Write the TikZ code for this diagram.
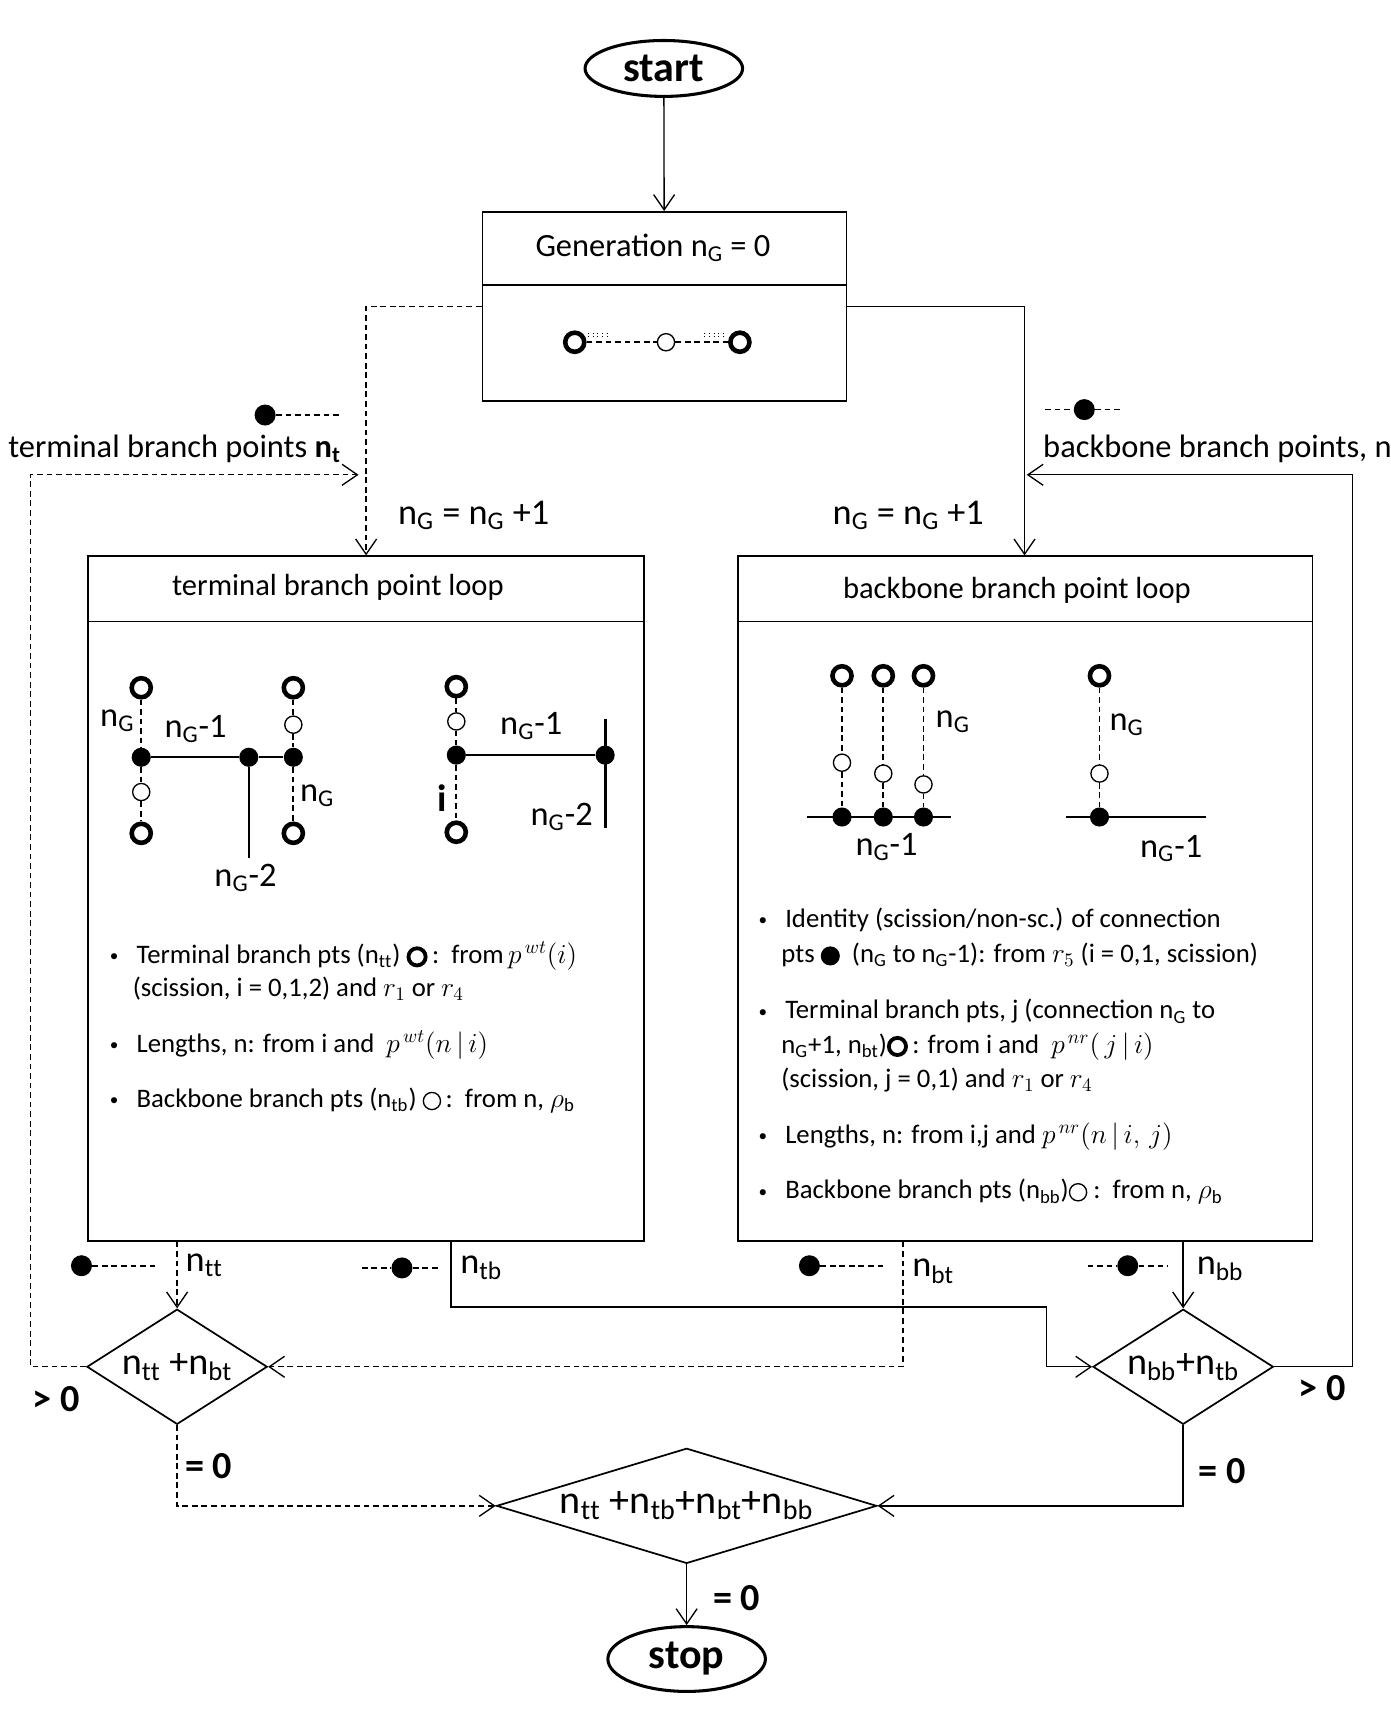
\documentclass[tikz,border=0pt]{standalone}
\usepackage{fontspec}
\setmainfont{Carlito}
\usetikzlibrary{arrows.meta,shapes.geometric}
\begin{document}
\begin{tikzpicture}[x=0.02cm,y=-0.02cm,
  ar/.style={-{Straight Barb[length=8pt,width=11pt]},line width=0.7pt},
  ln/.style={line width=0.9pt},
  dsh/.style={dashed,dash pattern=on 3pt off 2pt},
  box/.style={draw,line width=0.9pt,inner sep=0},
  dia/.style={draw,diamond,aspect=1.6,line width=0.9pt,inner sep=1pt,font=\fontsize{20}{22}\selectfont},
  term/.style={draw,ellipse,line width=1.6pt,font=\bfseries\fontsize{22}{24}\selectfont},
  tc/.style={circle,draw,line width=2.4pt,minimum size=10pt,inner sep=0},
  oc/.style={circle,draw,fill=white,line width=0.7pt,minimum size=9pt,inner sep=0},
  fd/.style={circle,fill,minimum size=10pt,inner sep=0},
  lb/.style={font=\fontsize{18}{20}\selectfont},
  bt/.style={font=\fontsize{14}{16}\selectfont,anchor=west},
  big/.style={font=\fontsize{19}{21}\selectfont},
  bz/.style={font=\bfseries\fontsize{20}{22}\selectfont}]
\useasboundingbox (0,0) rectangle (1280,1573);
% start
\node[term,minimum width=145*0.02cm,minimum height=48*0.02cm] (start) at (611,63) {start};
\node[box,minimum width=335*0.02cm,minimum height=174*0.02cm] (gen) at (611.5,282) {};
\draw[ln] (444,262) -- (779,262);
\node[font=\fontsize{17}{19}\selectfont] (gent) at (601,228) {Generation n$_{\mathrm G}$ = 0};
\draw[ar] (start) -- (gen);
% gen picture
\node[tc] (g1) at (529,315) {};
\node[oc] (g2) at (613,315) {};
\node[tc] (g3) at (681,315) {};
\draw[ln,dsh] (g1) -- (g2); \draw[ln,dsh] (g2) -- (g3);
\draw[line width=0.5pt,dotted] (541,307)--(561,307) (541,310)--(561,310) (648,307)--(668,307) (648,310)--(668,310);
% big boxes
\node[box,minimum width=512*0.02cm,minimum height=630*0.02cm] (tl) at (337,827) {};
\draw[ln] (81,572) -- (593,572);
\node[font=\fontsize{16}{18}\selectfont] (tlt) at (311,541) {terminal branch point loop};
\node[box,minimum width=529*0.02cm,minimum height=630*0.02cm] (bl) at (943.5,827) {};
\draw[ln] (679,572) -- (1208,572);
\node[font=\fontsize{16}{18}\selectfont] (blt) at (936,543) {backbone branch point loop};
% gen to loops
\coordinate (gl) at (337,282); \coordinate (gr) at (943,282);
\draw[ar,dsh] (gen.west |- gl) -- (gl) -- (tl.north -| gl);
\draw[ar] (gen.east |- gr) -- (gr) -- (bl.north -| gr);
\node[big] (inc1) at (436,474) {n$_{\mathrm G}$ = n$_{\mathrm G}$ +1};
\node[big] (inc2) at (836,474) {n$_{\mathrm G}$ = n$_{\mathrm G}$ +1};
% legends top
\node[fd,minimum size=11pt] (lgl) at (244,382) {}; \coordinate (lgl2) at (312,382);
\draw[ln,dsh] (lgl) -- (lgl2);
\node[lb,anchor=east,font=\fontsize{17}{19}\selectfont] (tbp) at (320,413) {terminal branch points \textbf{n$_{\mathbf t}$}};
\node[fd,minimum size=11pt] (lgr) at (998,377) {}; \coordinate (lgr1) at (962,377); \coordinate (lgr2) at (1034,377);
\draw[ln,dsh] (lgr1) -- (lgr) -- (lgr2);
\node[lb,anchor=west,font=\fontsize{17}{19}\selectfont] (bbp) at (954,413) {backbone branch points, n$_{\mathrm{b}}$};
% diamonds
\node[dia,minimum width=166*0.02cm,minimum height=106*0.02cm] (dl) at (163,1258) {n$_{\mathrm{tt}}$ +n$_{\mathrm{bt}}$};
\node[dia,minimum width=166*0.02cm,minimum height=106*0.02cm] (dr) at (1089,1258) {n$_{\mathrm{bb}}$+n$_{\mathrm{tb}}$};
\node[draw,diamond,line width=0.9pt,inner sep=0,minimum width=350*0.02cm,minimum height=106*0.02cm,font=\fontsize{21}{23}\selectfont,aspect=3.3] (dm) at (632,1386) {n$_{\mathrm{tt}}$ +n$_{\mathrm{tb}}$+n$_{\mathrm{bt}}$+n$_{\mathrm{bb}}$};
\node[term,minimum width=145*0.02cm,minimum height=46*0.02cm] (stop) at (632,1527) {stop};
% loop backs
\coordinate (lt) at (330,437); \coordinate (rt) at (945,437);
\draw[ar,dsh] (dl.west) -- (28,1258) |- (lt);
\draw[ar] (dr.east) -- (1245,1258) |- (rt);
% out of boxes
\draw[ar,dsh] (tl.south -| dl) -- (dl.north);
\draw[ar] (tl.south -| 415,0) -- (415,1203) -| (963,1258) -- (dr.west);
\draw[ar,dsh] (bl.south -| 831,0) -- (831,1258) -- (dl.east);
\draw[ar] (bl.south -| dr) -- (dr.north);
\draw[ar,dsh] (dl.south) -- (163,1386) -- (dm.west);
\draw[ar] (dr.south) -- (1089,1386) -- (dm.east);
\draw[ar] (dm.south) -- (stop.north);
\node[big] (ltt) at (188,1165) {n$_{\mathrm{tt}}$};
\node[big] (ltb) at (443,1167) {n$_{\mathrm{tb}}$};
\node[big] (lbt) at (859,1170) {n$_{\mathrm{bt}}$};
\node[big] (lbb) at (1123,1168) {n$_{\mathrm{bb}}$};
% small legends
\node[fd,minimum size=11pt] (s1) at (75,1165) {}; \coordinate (s1e) at (145,1165); \draw[ln,dsh] (s1) -- (s1e);
\node[fd,minimum size=11pt] (s2) at (370,1167) {}; \coordinate (s2a) at (333,1167); \coordinate (s2b) at (405,1167); \draw[ln,dsh] (s2a) -- (s2) -- (s2b);
\node[fd,minimum size=11pt] (s3) at (745,1165) {}; \coordinate (s3e) at (815,1165); \draw[ln,dsh] (s3) -- (s3e);
\node[fd,minimum size=11pt] (s4) at (1038,1165) {}; \coordinate (s4a) at (1001,1165); \coordinate (s4b) at (1075,1165); \draw[ln,dsh] (s4a) -- (s4) -- (s4b);
\node[bz] (g0a) at (52,1288) {> 0};
\node[bz] (g0b) at (1217,1278) {> 0};
\node[bz] (e0a) at (192,1349) {= 0};
\node[bz] (e0b) at (1125,1354) {= 0};
\node[bz] (e0c) at (678,1471) {= 0};
% left graph 1
\node[tc] (a1) at (130,633) {}; \node[fd] (a2) at (130,697) {}; \node[oc] (a3) at (130,729) {}; \node[tc] (a4) at (130,767) {};
\draw[ln,dsh] (a1) -- (a2) -- (a3) -- (a4);
\node[fd] (a5) at (229,697) {}; \node[fd] (a6) at (270,697) {};
\coordinate (a7) at (229,790);
\draw[ln] (a2) -- (a5) -- (a6); \draw[ln] (a5) -- (a7);
\node[tc] (b1) at (270,633) {}; \node[oc] (b2) at (270,667) {}; \node[tc] (b3) at (270,767) {};
\draw[ln,dsh] (b1) -- (b2) -- (a6) -- (b3);
\node[lb] (la1) at (108,663) {n$_{\mathrm G}$};
\node[lb] (la2) at (180,671) {n$_{\mathrm G}$-1};
\node[lb] (la3) at (226,808) {n$_{\mathrm G}$-2};
\node[lb] (la4) at (292,732) {n$_{\mathrm G}$};
% left graph 2
\node[tc] (c1) at (420,632) {}; \node[oc] (c2) at (420,664) {}; \node[fd] (c3) at (420,695) {}; \node[tc] (c4) at (420,766) {};
\draw[ln,dsh] (c1) -- (c2) -- (c3) -- (c4);
\node[fd] (c5) at (557,695) {}; \coordinate (c6) at (557,662); \coordinate (c7) at (557,762);
\draw[ln] (c3) -- (c5); \draw[line width=1.5pt] (c6) -- (c7);
\node[lb] (lc1) at (489,668) {n$_{\mathrm G}$-1};
\node[bz] (lc2) at (407,735) {i};
\node[lb] (lc3) at (517,752) {n$_{\mathrm G}$-2};
% right graph
\foreach \x/\o [count=\k] in {775/702,813/712,850/722}{
  \node[tc] (r\k t) at (\x,622) {}; \node[oc] (r\k o) at (\x,\o) {}; \node[fd] (r\k f) at (\x,752) {};
  \draw[ln,dsh] (r\k t) -- (r\k o) -- (r\k f);}
\coordinate (rh1) at (743,752); \coordinate (rh2) at (875,752); \draw[ln] (rh1) -- (rh2);
\node[tc] (q1) at (1012,622) {}; \node[oc] (q2) at (1012,712) {}; \node[fd] (q3) at (1012,752) {};
\draw[ln,dsh] (q1) -- (q2) -- (q3);
\coordinate (qh1) at (981,752); \coordinate (qh2) at (1110,752); \draw[ln] (qh1) -- (qh2);
\node[lb] (lr1) at (877,664) {n$_{\mathrm G}$};
\node[lb] (lr2) at (816,780) {n$_{\mathrm G}$-1};
\node[lb] (lr3) at (1037,667) {n$_{\mathrm G}$};
\node[lb] (lr4) at (1078,781) {n$_{\mathrm G}$-1};
% bullets
\def\tcs{\tikz[baseline=-3.5pt]\node[circle,draw,line width=2pt,minimum size=9pt,inner sep=0]{};}
\def\ocs{\tikz[baseline=-3.5pt]\node[circle,draw,line width=0.7pt,minimum size=9pt,inner sep=0]{};}
\def\fds{\tikz[baseline=-3.5pt]\node[circle,fill,minimum size=10pt,inner sep=0]{};}
\def\bul{{\fontsize{9}{9}\selectfont\raisebox{1pt}{\textbullet}}\ \ \ }
\node[bt] (u1) at (95,880) {\bul Terminal branch pts (n$_{\mathrm{tt}}$) \tcs\,:\ \ from\,$p^{\,wt}(i)$};
\node[bt] (u2) at (116,910) {(scission, i = 0,1,2) and $r_1$ or $r_4$};
\node[bt] (u3) at (95,962) {\bul Lengths, n: from i and \ $p^{\,wt}(n\,|\,i)$};
\node[bt] (u4) at (95,1013) {\bul Backbone branch pts (n$_{\mathrm{tb}}$) \ocs\,:\ \ from n, $\rho_{\mathrm b}$};
\node[bt] (v1) at (692,847) {\bul Identity (scission/non-sc.) of connection};
\node[bt] (v2) at (713,879) {pts \fds\ \ (n$_{\mathrm G}$ to n$_{\mathrm G}$-1): from $r_5$ (i = 0,1, scission)};
\node[bt] (v3) at (692,931) {\bul Terminal branch pts, j (connection n$_{\mathrm G}$ to};
\node[bt] (v4) at (713,963) {n$_{\mathrm G}$+1, n$_{\mathrm{bt}}$)\tcs\,: from i and \ $p^{\,nr}(\,j\,|\,i)$};
\node[bt] (v5) at (713,994) {(scission, j = 0,1) and $r_1$ or $r_4$};
\node[bt] (v6) at (692,1046) {\bul Lengths, n: from i,j and $p^{\,nr}(n\,|\,i,\,j)$};
\node[bt] (v7) at (692,1097) {\bul Backbone branch pts (n$_{\mathrm{bb}}$)\ocs\ :\ \ from n, $\rho_{\mathrm b}$};
\end{tikzpicture}
\end{document}
